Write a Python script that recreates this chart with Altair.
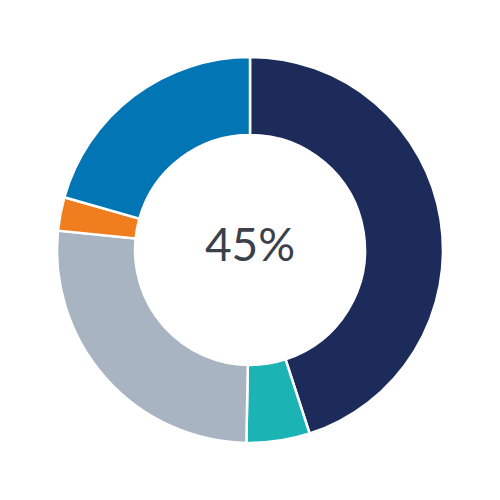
import altair as alt
import pandas as pd

categories = ["A", "B", "C", "D", "E"]
values = [45, 5.3, 26.3, 2.8, 20.6]
colors = ["#1c2b5a", "#1bb3b3", "#a9b4c3", "#f07e1f", "#0275b5"]
center_label = ["45%"]

df = pd.DataFrame({"cat": categories, "val": values, "ord": list(range(len(categories)))})

arcs = alt.Chart(df).mark_arc(outerRadius=193, innerRadius=115, stroke="white", strokeWidth=2.5).encode(
    theta=alt.Theta("val:Q", stack=True),
    color=alt.Color("cat:N", scale=alt.Scale(domain=categories, range=colors), legend=None),
    order=alt.Order("ord:Q"),
)

text = alt.Chart(pd.DataFrame({"t": center_label})).mark_text(
    font="Lato", fontSize=46, color="#3b4049", baseline="middle", align="center", dy=-3
).encode(text="t:N")

chart = alt.layer(arcs, text).properties(
    width=484, height=484, padding=0,
    autosize=alt.AutoSizeParams(type="fit", contains="padding"),
).configure_view(stroke=None)

chart.save("out.html", embed_options={"renderer": "svg", "actions": False})
